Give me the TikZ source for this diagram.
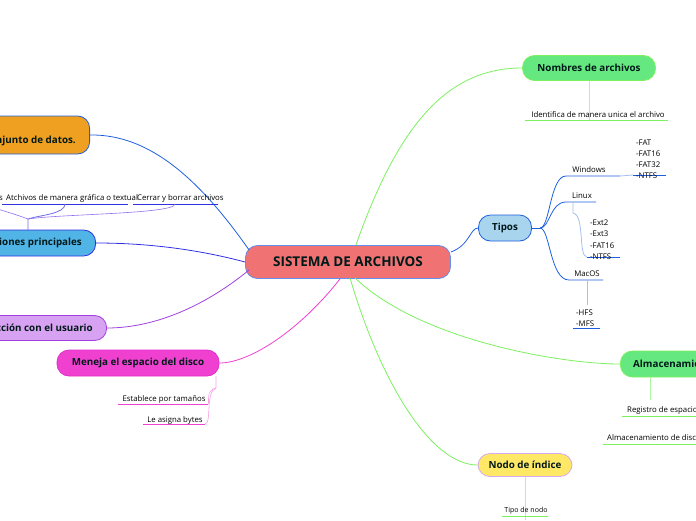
\documentclass[tikz,border=0pt]{standalone}
\usepackage{fontspec}
\setmainfont{Open Sans}
\definecolor{cgreen}{HTML}{66E880}
\definecolor{lgreen}{HTML}{7CF060}
\definecolor{cblue}{HTML}{1E5FE0}
\definecolor{csal}{HTML}{F07272}
\definecolor{ctip}{HTML}{A8D4EE}
\definecolor{cyel}{HTML}{FFE866}
\definecolor{cyelb}{HTML}{D8A8F0}
\definecolor{corg}{HTML}{F0A020}
\definecolor{cfun}{HTML}{50B4E6}
\definecolor{cind}{HTML}{3030E0}
\definecolor{cvio}{HTML}{D8A2F2}
\definecolor{cviob}{HTML}{A040E0}
\definecolor{cmag}{HTML}{F040D0}
\definecolor{cmagb}{HTML}{E030C8}
\definecolor{clav}{HTML}{9070F0}
\begin{document}
\begin{tikzpicture}[x=1pt,y=-1pt,
 box/.style={draw,rounded corners=12pt,line width=0.8pt,inner sep=0pt},
 bt/.style={font=\bfseries\fontsize{9.8}{11}\selectfont,text=black!80!teal,inner sep=0pt},
 sm/.style={font=\fontsize{7.8}{9}\selectfont,inner sep=0pt,anchor=base},
 con/.style={line width=0.8pt}]
\useasboundingbox (0,0) rectangle (696,520);
% center
\node[box,fill=csal,draw=cblue!70,minimum width=205,minimum height=33,bt,font=\bfseries\fontsize{13.5}{15}\selectfont] (c) at (348,262) {SISTEMA DE ARCHIVOS};
% right nodes
\node[box,fill=cgreen,draw=lgreen,minimum width=133,minimum height=25,bt] (nom) at (589,68) {Nombres de archivos};
\node[box,fill=ctip,draw=cblue,minimum width=53,minimum height=26,bt] (tip) at (505,228) {Tipos};
\node[box,fill=cgreen,draw=lgreen,minimum width=150,minimum height=26,anchor=west] (alm) at (620,364) {};
\node[bt,anchor=west] (almt) at (633,364) {Almacenamiento};
\node[box,fill=cyel,draw=cyelb,minimum width=94,minimum height=23,bt] (ndi) at (525,465) {Nodo de índice};
% left nodes
\node[box,fill=corg,draw=cblue,minimum width=160,minimum height=38,anchor=east] (con) at (90,135) {};
\node[bt,anchor=east] (cont) at (76,141) {Conjunto de datos.};
\node[box,fill=cfun,draw=cind,minimum width=180,minimum height=26,anchor=east] (fun) at (96,243) {};
\node[bt,anchor=east] (funt) at (82,243) {Funciones principales};
\node[box,fill=cvio,draw=cviob,minimum width=200,minimum height=25,anchor=east] (int) at (107,328) {};
\node[bt,anchor=east] (intt) at (93,328) {Interacción con el usuario};
\node[box,fill=cmag,draw=cmagb,minimum width=162,minimum height=26,bt] (men) at (138,363) {Meneja el espacio del disco};
% main connectors
\draw[con,lgreen] (c.north east) ++(-95,0) .. controls (400,120) and (450,68) .. (nom.west);
\draw[con,cblue] (c.east) ++(0,-10) .. controls (470,245) and (470,228) .. (tip.west);
\draw[con,lgreen] (355,278) .. controls (420,340) and (560,364) .. (alm.west);
\draw[con,lgreen] (350,278) .. controls (380,380) and (430,465) .. (ndi.west);
\draw[con,cblue] (c.west) ++(4,-12) .. controls (200,180) and (150,134) .. (con.east);
\draw[con,cind] (c.west) .. controls (200,250) and (150,243) .. (fun.east);
\draw[con,cviob] (c.west) ++(4,8) .. controls (200,310) and (150,328) .. (int.east);
\draw[con,cmag] (c.south) ++(-8,0) .. controls (300,330) and (250,363) .. (men.east);
% nombres sub
\node[sm] (id) at (598,117) {Identifica de manera unica el archivo};
\coordinate (idu) at (589,120);
\draw[lgreen!60] (nom.south) -- (idu);
\draw[con,lgreen] (525,120) -- (668,120);
% tipos sub
\node[sm] (win) at (589,172) {Windows};
\node[sm] (lin) at (582,198) {Linux};
\node[sm] (mac) at (587,276) {MacOS};
\coordinate (tj) at (540,228);
\draw[con,cblue] (tip.east) -- (tj);
\draw[con,cblue] (tj) .. controls (550,228) and (550,176) .. (566,176) -- (620,176);
\draw[con,cblue] (tj) .. controls (550,228) and (550,202) .. (566,202) -- (596,202);
\draw[con,cblue] (tj) .. controls (550,228) and (550,280) .. (569,280) -- (603,280);
\draw[cblue!40,line width=0.8pt] (620,176) -- (633,175);
\draw[con,cblue] (633,175) -- (666,175);
\node[sm,anchor=base west] at (636,145) {-FAT};
\node[sm,anchor=base west] at (636,156) {-FAT16};
\node[sm,anchor=base west] at (636,167) {-FAT32};
\node[sm,anchor=base west] at (636,178) {-NTFS};
\draw[cblue!40,line width=0.8pt] (573,202) -- (573,213) .. controls (585,215) and (578,257) .. (587,257);
\draw[con,cblue] (587,257) -- (620,257);
\node[sm,anchor=base west] at (590,225) {-Ext2};
\node[sm,anchor=base west] at (590,236) {-Ext3};
\node[sm,anchor=base west] at (590,248) {-FAT16};
\node[sm,anchor=base west] at (590,259) {-NTFS};
\draw[cblue!40,line width=0.8pt] (587,280) -- (587,305);
\draw[con,cblue] (573,328) -- (600,328);
\node[sm,anchor=base west] at (576,315) {-HFS};
\node[sm,anchor=base west] at (576,326) {-MFS};
% almacenamiento sub
\draw[lgreen!60] (650,377) -- (650,400);
\node[sm,anchor=base west] at (627,412) {Registro de espacio libre};
\draw[con,lgreen] (622,416) -- (720,416);
\node[sm,anchor=base west] at (607,440) {Almacenamiento de disco};
\draw[con,lgreen] (603,444) -- (720,444);
% nodo sub
\draw[lgreen!60] (ndi.south) -- (525,520);
\node[sm] at (526,512) {\fontsize{7}{8}\selectfont Tipo de nodo};
\draw[con,lgreen] (502,516) -- (548,516);
% funciones sub
\node[sm,anchor=base west] at (6,200) {Atchivos de manera gráfica o textual};
\node[sm,anchor=base west] at (137,200) {Cerrar y borrar archivos};
\node[sm,anchor=base east] at (3,200) {s};
\draw[con,cind] (2,204) -- (128,204);
\draw[con,cind] (133,204) -- (218,204);
\draw[cind!70,line width=0.8pt] (28,230) -- (28,219) .. controls (40,215) and (65,214) .. (65,204);
\draw[clav,line width=0.6pt] (28,219) .. controls (60,214) and (175,214) .. (175,204);
\draw[clav,line width=0.6pt] (28,219) .. controls (15,214) and (0,210) .. (-5,208);
% meneja sub
\node[sm] at (164,401) {Establece por tamaños};
\node[sm] at (175,422) {Le asigna bytes};
\draw[cmag!50,line width=0.6pt] (216,376) -- (216,388) .. controls (205,390) and (210,404) .. (208,404);
\draw[cmag!50,line width=0.6pt] (216,388) .. controls (205,392) and (212,424) .. (205,424);
\draw[con,cmag] (118,404) -- (208,404);
\draw[con,cmag] (143,424) -- (205,424);
\end{tikzpicture}
\end{document}
